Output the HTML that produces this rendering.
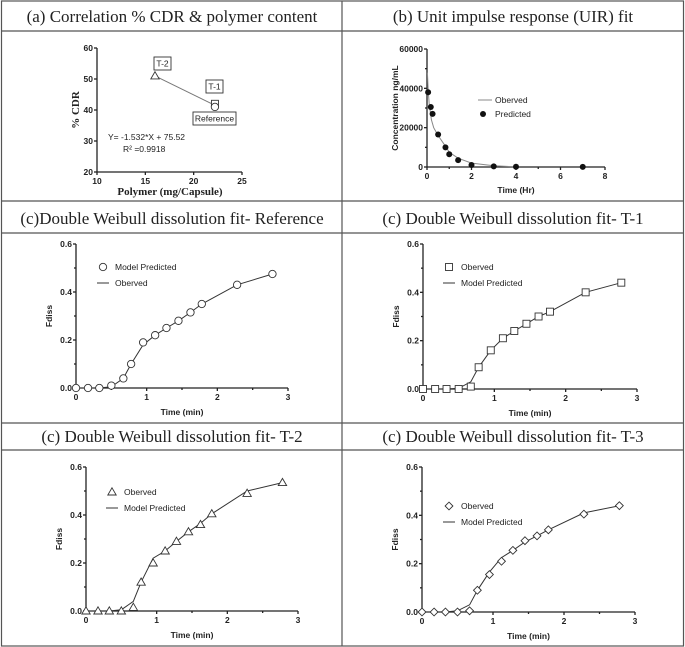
<!DOCTYPE html>
<html><head><meta charset="utf-8"><style>
html,body{margin:0;padding:0;background:#fff}
svg{display:block}
.t{font-family:"Liberation Serif",serif;font-size:17px;fill:#222}
.s{font-family:"Liberation Sans",sans-serif;font-size:8.5px;fill:#222;font-weight:bold}
.l{font-family:"Liberation Sans",sans-serif;font-size:8.5px;fill:#222}
</style></head><body>
<svg id="fig" width="685" height="647" viewBox="0 0 685 647" xmlns="http://www.w3.org/2000/svg">
<g stroke="#555" stroke-width="1.2" fill="none">
<rect x="1.5" y="1" width="682" height="645"/>
<line x1="1" y1="31" x2="684" y2="31"/>
<line x1="1" y1="201" x2="684" y2="201"/>
<line x1="1" y1="233" x2="684" y2="233"/>
<line x1="1" y1="423" x2="684" y2="423"/>
<line x1="1" y1="450" x2="684" y2="450"/>
<line x1="342" y1="1" x2="342" y2="646"/>
</g>
<text class="t" x="172" y="22" text-anchor="middle">(a) Correlation % CDR &amp; polymer content</text>
<text class="t" x="513" y="22" text-anchor="middle">(b) Unit impulse response (UIR) fit</text>
<text class="t" x="172" y="224" text-anchor="middle">(c)Double Weibull dissolution fit- Reference</text>
<text class="t" x="513" y="224" text-anchor="middle">(c) Double Weibull dissolution fit- T-1</text>
<text class="t" x="172" y="442" text-anchor="middle">(c) Double Weibull dissolution fit- T-2</text>
<text class="t" x="513" y="442" text-anchor="middle">(c) Double Weibull dissolution fit- T-3</text>
<g id="plots"></g>
</svg>
<script>
// Panel A data
const aPolymer=[16,22.2,22.2];
const aCDR=[51,42,41];
const aFitX=[16,22.2];
const aFitY=[51,41.5];
// Panel B data
const bTime=[0.05,0.17,0.25,0.5,0.83,1,1.4,2,3,4,7];
const bPred=[38000,30500,27000,16500,10000,6500,3500,1000,300,100,50];
const bObsT=[0.02,0.05,0.1,0.2,0.3,0.5,0.83,1,1.4,2,3,4];
const bObs=[48000,40000,32000,24000,20000,16000,10500,7500,4500,2000,600,100];
// Panel C data
const cTime=[0,0.17,0.33,0.5,0.67,0.78,0.95,1.12,1.28,1.45,1.62,1.78,2.28,2.78];
const refPts=[0,0,0,0.01,0.04,0.1,0.19,0.22,0.25,0.28,0.315,0.35,0.43,0.475];
const refLine=[0,0,0,0.005,0.04,0.1,0.18,0.22,0.25,0.28,0.315,0.35,0.43,0.475];
const t1Pts=[0,0,0,0,0.01,0.09,0.16,0.21,0.24,0.27,0.30,0.32,0.40,0.44];
const t1Line=[0,0,0,0.003,0.03,0.09,0.16,0.21,0.24,0.27,0.30,0.32,0.40,0.44];
const t2Pts=[0,0,0,0,0.015,0.12,0.2,0.25,0.29,0.33,0.36,0.405,0.49,0.535];
const t2Line=[0,0,0,0.005,0.04,0.12,0.22,0.25,0.29,0.33,0.365,0.405,0.50,0.535];
const t3Pts=[0,0,0,0,0.005,0.09,0.155,0.21,0.255,0.295,0.315,0.34,0.405,0.44];
const t3Line=[0,0,0,0.005,0.03,0.09,0.165,0.225,0.255,0.29,0.315,0.34,0.41,0.44];
const cYTicks=["0.0","0.2","0.4","0.6"];
const cXTicks=["0","1","2","3"];

const NS="http://www.w3.org/2000/svg";
const root=document.getElementById('plots');
function el(tag,attrs,parent,txt){const e=document.createElementNS(NS,tag);for(const k in attrs)e.setAttribute(k,attrs[k]);if(txt!==undefined)e.textContent=txt;(parent||root).appendChild(e);return e;}
function scale(d0,d1,r0,r1){return v=>r0+(v-d0)*(r1-r0)/(d1-d0);}

function axes(g,sx,sy,x0,x1,y0,y1,xt,yt,xmin,ymin,xlab,ylab,fmtX,fmtY){
  const ax=el('g',{stroke:'#222','stroke-width':1.3},g);
  
  
  el('line',{x1:sx(x0),y1:sy(y0),x2:sx(x0),y2:sy(y1)},ax);
  el('line',{x1:sx(x0),y1:sy(y0),x2:sx(x1),y2:sy(y0)},ax);
  xt.forEach(v=>{el('line',{x1:sx(v),y1:sy(y0),x2:sx(v),y2:sy(y0)+3},ax);
    const t=el('text',{class:'s',x:sx(v),y:sy(y0)+12,'text-anchor':'middle'},g,fmtX(v));
    });
  xmin.forEach(v=>el('line',{x1:sx(v),y1:sy(y0),x2:sx(v),y2:sy(y0)+2},ax));
  yt.forEach(v=>{el('line',{x1:sx(x0)-3,y1:sy(v),x2:sx(x0),y2:sy(v)},ax);
    const t=el('text',{class:'s',x:sx(x0)-4,y:sy(v)+3,'text-anchor':'end'},g,fmtY(v));
    });
  ymin.forEach(v=>el('line',{x1:sx(x0)-2,y1:sy(v),x2:sx(x0),y2:sy(v)},ax));
}
function path(g,sx,sy,xs,ys,stroke){let d='';xs.forEach((x,i)=>d+=(i?'L':'M')+sx(x).toFixed(1)+','+sy(ys[i]).toFixed(1));
  const p=el('path',{d:d,fill:'none',stroke:stroke||'#333','stroke-width':1},g);return p;}
function marker(g,type,x,y){
  if(type==='circle')return el('circle',{cx:x,cy:y,r:3.7,fill:'#fff',stroke:'#333','stroke-width':0.9},g);
  if(type==='square')return el('rect',{x:x-3.5,y:y-3.5,width:7,height:7,fill:'#fff',stroke:'#333','stroke-width':0.9},g);
  if(type==='tri')return el('path',{d:`M${x},${y-4.2}L${x+4.2},${y+3}L${x-4.2},${y+3}Z`,fill:'#fff',stroke:'#333','stroke-width':0.9},g);
  if(type==='diamond')return el('path',{d:`M${x},${y-3.9}L${x+3.9},${y}L${x},${y+3.9}L${x-3.9},${y}Z`,fill:'#fff',stroke:'#333','stroke-width':0.9},g);
  if(type==='dot')return el('circle',{cx:x,cy:y,r:3,fill:'#111'},g);
}

// Panel A
(function(){
  const g=el('g',{});
  const sx=scale(10,25,97,242),sy=scale(20,60,172,48);
  axes(g,sx,sy,10,25,20,60,[10,15,20,25],[20,30,40,50,60],[],[],'','',v=>v,v=>v);
  const fl=path(g,sx,sy,aFitX,aFitY,'#777');
  const types=['tri','square','circle'];
  aPolymer.forEach((x,i)=>{const m=marker(g,types[i],sx(x),sy(aCDR[i]));});
  const lbls=[['T-2',154,57,17],['T-1',206,80,17],['Reference',193,112,43]];
  lbls.forEach(l=>{const r=el('rect',{x:l[1],y:l[2],width:l[3],height:13,fill:'#fff',stroke:'#333','stroke-width':0.9},g);
    
    const t=el('text',{class:'l',x:l[1]+l[3]/2,y:l[2]+9.5,'text-anchor':'middle','font-size':'8'},g,l[0]);
    });
  const e1=el('text',{class:'l',x:108,y:140},g,'Y= -1.532*X + 75.52');
  const e2=el('text',{class:'l',x:123,y:152},g,'R\u00b2 =0.9918');
  const xl=el('text',{x:170,y:195,'text-anchor':'middle','font-family':'Liberation Serif,serif','font-weight':'bold','font-size':'11',fill:'#222'},g,'Polymer (mg/Capsule)');
  
  const yl=el('text',{x:0,y:0,'text-anchor':'middle','font-family':'Liberation Serif,serif','font-weight':'bold','font-size':'11',fill:'#222',transform:'translate(79,110) rotate(-90)'},g,'% CDR');
  
})();

// Panel B
(function(){
  const g=el('g',{});
  const sx=scale(0,8,427,605),sy=scale(0,60000,167,49);
  axes(g,sx,sy,0,8,0,60000,[0,2,4,6,8],[0,20000,40000,60000],[1,3,5,7],[10000,30000,50000],'','',v=>v,v=>v);
  const ln=path(g,sx,sy,bObsT,bObs,'#888');
  bTime.forEach((t,i)=>{const m=marker(g,'dot',sx(t),sy(bPred[i]));});
  el('line',{x1:478,y1:100,x2:492,y2:100,stroke:'#888','stroke-width':1},g);
  el('text',{class:'l',x:495,y:103},g,'Oberved');
  marker(g,'dot',483,114);
  el('text',{class:'l',x:495,y:117},g,'Predicted');
  const xl=el('text',{class:'s',x:516,y:193,'text-anchor':'middle','font-size':'8'},g,'Time (Hr)');
  const yl=el('text',{class:'s','font-size':'8','text-anchor':'middle',x:0,y:0,transform:'translate(398,108) rotate(-90)'},g,'Concentration ng/mL');
})();

// Panel C
function cPanel(name,x0p,x3p,y0p,y6p,pts,line,mk,legX,legY,markerLabel,lineLabel){
  const g=el('g',{});
  const sx=scale(0,3,x0p,x3p),sy=scale(0,0.6,y0p,y6p);
  axes(g,sx,sy,0,3,0,0.6,[0,1,2,3],[0,0.2,0.4,0.6],[0.5,1.5,2.5],[0.1,0.3,0.5],'','',v=>cXTicks[v],v=>cYTicks[Math.round(v*5)]);
  const ln=path(g,sx,sy,cTime,line,'#333');
  cTime.forEach((t,i)=>{const m=marker(g,mk,sx(t),sy(pts[i]));});
  marker(g,mk,legX,legY);
  const a=el('text',{class:'l',x:legX+12,y:legY+3},g,markerLabel);
  el('line',{x1:legX-6,y1:legY+16,x2:legX+6,y2:legY+16,stroke:'#333','stroke-width':1},g);
  const b=el('text',{class:'l',x:legX+12,y:legY+19},g,lineLabel);
  const xl=el('text',{class:'s','font-size':'8',x:(x0p+x3p)/2,y:y0p+27,'text-anchor':'middle'},g,'Time (min)');
  const yl=el('text',{class:'s','font-size':'8','text-anchor':'middle',x:0,y:0,transform:`translate(${x0p-24},${(y0p+y6p)/2}) rotate(-90)`},g,'Fdiss');
}
cPanel('panel-c-reference',76,288,388,244,refPts,refLine,'circle',103,267,'Model Predicted','Oberved');
cPanel('panel-c-t1',423,637,389,244,t1Pts,t1Line,'square',449,267,'Oberved','Model Predicted');
cPanel('panel-c-t2',86,298,611,467,t2Pts,t2Line,'tri',112,492,'Oberved','Model Predicted');
cPanel('panel-c-t3',422,635,612,467,t3Pts,t3Line,'diamond',449,506,'Oberved','Model Predicted');
</script>
</body></html>
